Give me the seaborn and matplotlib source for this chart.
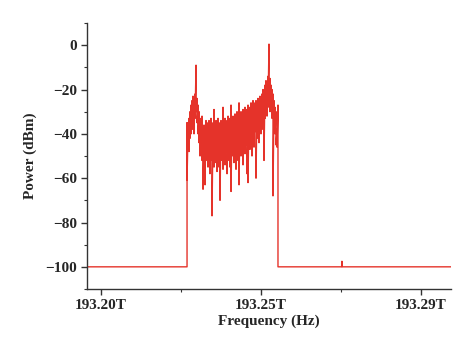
import numpy as np
import pandas as pd
import seaborn as sns
import matplotlib.pyplot as plt
from matplotlib.ticker import MultipleLocator, FixedLocator, FixedFormatter

# frequency axis: offset in GHz from 193.20 THz
x_tick_pos = [0, 50, 100]
x_tick_labels = ["193.20T", "193.25T", "193.29T"]
y_ticks = [0, -20, -40, -60, -80, -100]

noise_floor = -100
left_edge, right_edge = -4.4, 109.4
spur_freq, spur_power = 75.3, -97.5

# signal band, read per ~0.31 GHz step: upper and lower excursion of the trace
band_freq = [26.88, 27.19, 27.50, 27.81, 28.13, 28.44, 28.75, 29.06, 29.38, 29.69,
             30.00, 30.31, 30.63, 30.94, 31.25, 31.56, 31.88, 32.19, 32.50, 32.81,
             33.13, 33.44, 33.75, 34.06, 34.38, 34.69, 35.00, 35.31, 35.63, 35.94,
             36.25, 36.56, 36.88, 37.19, 37.50, 37.81, 38.13, 38.44, 38.75, 39.06,
             39.38, 39.69, 40.00, 40.31, 40.63, 40.94, 41.25, 41.56, 41.88, 42.19,
             42.50, 42.81, 43.13, 43.44, 43.75, 44.06, 44.38, 44.69, 45.00, 45.31,
             45.63, 45.94, 46.25, 46.56, 46.88, 47.19, 47.50, 47.81, 48.13, 48.44,
             48.75, 49.06, 49.38, 49.69, 50.00, 50.31, 50.63, 50.94, 51.25, 51.56,
             51.88, 52.19, 52.50, 52.81, 53.13, 53.44, 53.75, 54.06, 54.38, 54.69,
             55.00, 55.31]
band_hi = [-35, -38, -33, -30, -27, -25, -23, -24, -22, -9,
           -24, -27, -30, -33, -35, -32, -38, -36, -40, -34,
           -35, -37, -34, -36, -33, -36, -35, -29, -36, -34,
           -37, -33, -35, -36, -34, -37, -28, -35, -33, -36,
           -34, -32, -35, -33, -27, -34, -32, -35, -31, -33,
           -30, -34, -26, -32, -30, -33, -29, -31, -28, -32,
           -29, -27, -31, -28, -26, -29, -25, -28, -26, -25,
           -27, -24, -26, -23, -25, -22, -20, -21, -18, -16,
           -17, -14, 0.5, -15, -18, -20, -22, -25, -28, -30,
           -38, -27]
band_lo = [-61, -45, -48, -42, -40, -38, -35, -40, -33, -30,
           -35, -40, -44, -50, -47, -52, -65, -50, -63, -48,
           -52, -55, -50, -58, -52, -77, -50, -55, -48, -53,
           -57, -50, -55, -70, -52, -48, -56, -50, -54, -48,
           -58, -52, -49, -55, -66, -50, -47, -53, -48, -56,
           -46, -52, -63, -47, -50, -45, -54, -44, -49, -45,
           -58, -62, -44, -47, -42, -50, -40, -46, -39, -60,
           -42, -38, -44, -36, -40, -35, -38, -52, -33, -30,
           -32, -28, -26, -30, -28, -33, -68, -35, -40, -45,
           -46, -45]

freq = [left_edge, band_freq[0]]
power = [noise_floor, noise_floor]
for f, hi, lo in zip(band_freq, band_hi, band_lo):
    freq += [f, f]
    power += [hi, lo]
freq += [band_freq[-1], spur_freq - 0.1, spur_freq, spur_freq + 0.1, right_edge]
power += [noise_floor, noise_floor, spur_power, noise_floor, noise_floor]
df = pd.DataFrame({"freq": freq, "power": power})

sns.set_style("ticks")
plt.rcParams['font.family'] = ['Liberation Serif', 'DejaVu Serif']
plt.rcParams['font.weight'] = 'bold'

fig = plt.figure(figsize=(4.74, 3.57), dpi=100)
ax = fig.add_axes([0.1835, 0.1905, 0.768, 0.745])
sns.lineplot(data=df, x="freq", y="power", sort=False, estimator=None,
             color="#e5332a", linewidth=1.0, ax=ax)

ax.set_xlim(left_edge, right_edge)
ax.set_ylim(-110, 10)
ax.xaxis.set_major_locator(FixedLocator(x_tick_pos))
ax.xaxis.set_major_formatter(FixedFormatter(x_tick_labels))
ax.xaxis.set_minor_locator(FixedLocator([25, 75]))
ax.set_yticks(y_ticks)
ax.yaxis.set_minor_locator(MultipleLocator(10))

for s in ["top", "right"]:
    ax.spines[s].set_visible(False)
for s in ["left", "bottom"]:
    ax.spines[s].set_color("#333333")
    ax.spines[s].set_linewidth(1.0)
ax.tick_params(which="major", length=4, width=1, color="#333333",
               labelsize=11, pad=3)
ax.tick_params(which="minor", length=2.5, width=0.8, color="#333333")

ax.set_xlabel("Frequency (Hz)", fontsize=11, fontweight="bold", labelpad=2)
ax.set_ylabel("Power (dBm)", fontsize=11, fontweight="bold", labelpad=6)

fig.savefig("out.png", dpi=100, facecolor="white")
